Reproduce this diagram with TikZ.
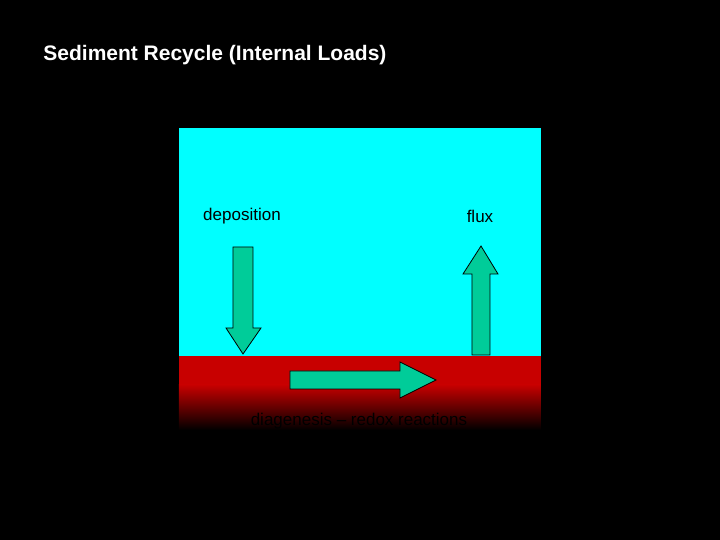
\documentclass[tikz,border=0pt]{standalone}
\usepackage{fontspec}
\setmainfont{Liberation Sans}
\usepackage{xcolor}
\usepackage{tikz}
\definecolor{water}{RGB}{0,255,255}
\definecolor{mud}{RGB}{200,0,0}
\definecolor{flow}{RGB}{0,204,153}
\tikzstyle{every node}=[inner sep=0pt]
\tikzstyle{arrowbody}=[fill=flow,draw=black,thin]
\tikzstyle{lbl}=[font=\fontsize{8.5pt}{10pt}\selectfont]

\begin{document}
\begin{tikzpicture}[x=0.5pt,y=-0.5pt]
		\fill[black] (0,0) rectangle (720,540);
		\node[anchor=west,font=\bfseries\fontsize{10.5pt}{12pt}\selectfont,white] (title) at (43,55) {Sediment Recycle (Internal Loads)};
		% water column and sediment
		\fill[water] (179,128) rectangle (541,356);
		\fill[mud] (179,356) rectangle (541,385);
		\shade[top color=mud,bottom color=black] (179,384.5) rectangle (541,430);
		% arrows
		\draw[arrowbody] (233,247) -- (253,247) -- (253,328) -- (261,328) -- (243,354) -- (226,328) -- (233,328) -- cycle;
		\draw[arrowbody] (472,355) -- (490,355) -- (490,274) -- (498,274) -- (481,246) -- (463,274) -- (472,274) -- cycle;
		\draw[arrowbody] (290,371) -- (400,371) -- (400,362) -- (436,380) -- (400,398) -- (400,389) -- (290,389) -- cycle;
		% labels
		\node[lbl] (dep) at (242,216) {deposition};
		\node[lbl] (flux) at (480,216) {flux};
		\node[lbl] (diag) at (359,421) {diagenesis -- redox reactions};
\end{tikzpicture}
\end{document}
